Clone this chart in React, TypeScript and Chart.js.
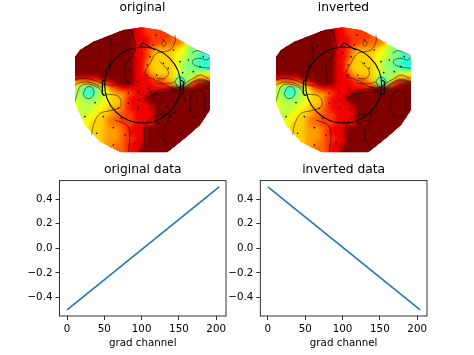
import React, { useEffect, useRef } from "react";
import { Chart, registerables } from "chart.js";

Chart.register(...registerables);

const FONT = "'DejaVu Sans'";

// ---- line panels ----
const channels = [0, 204];
const originalValues = [-0.5, 0.5];
const invertedValues = [0.5, -0.5];
const xTicks = [0, 50, 100, 150, 200];
const yTicks = [-0.4, -0.2, 0, 0.2, 0.4];

// ---- topomap: colour levels per cell (0 = cyan-green ... 9 = dark red) ----
const levelJet = [0.42, 0.5, 0.56, 0.62, 0.67, 0.72, 0.77, 0.82, 0.89, 1.0];
const heatRows = [
  "999999999999887777665443322",
  "999999999999887777766543322",
  "999999999999888777766543221",
  "999999999999888776666532211",
  "999999999999887655554321111",
  "999999999999887544443321100",
  "999999999999887544443221100",
  "999999999999886444443211000",
  "999999999999886444443211100",
  "999999999999887544443221233",
  "888889999999888766541013555",
  "444556789999888877652026899",
  "210012367888888888899999999",
  "210012345567888999999999999",
  "221122344578889999999999999",
  "322223344578888999999999999",
  "322233455678888899999999999",
  "322334456677888899999999999",
  "323344566777888899999999999",
  "333444566777888899999999999",
  "333444555678889999999999999",
  "333444555678889999999999999",
  "444444555677889999999999999",
  "444444556678889999999999999",
  "444445566678899999999999999",
];
const outline: [number, number][] = [
  [45, 170], [60, 150], [100, 125], [190, 90], [245, 82], [300, 90], [350, 115], [445, 168], [450, 178],
  [450, 330], [420, 375], [380, 410], [320, 458], [185, 458], [120, 425], [75, 375], [45, 310],
];
const contours: [number, number][][] = [
  [[45, 238], [70, 235], [100, 240], [130, 252], [160, 258]],
  [[45, 256], [55, 250], [75, 246], [100, 250], [122, 262], [130, 272]],
  [[45, 305], [52, 280], [62, 258], [80, 252], [100, 256], [120, 268], [128, 285]],
  [[70, 280], [80, 262], [95, 262], [102, 280], [90, 295], [75, 292], [70, 280]],
  [[96, 405], [96, 395], [104, 365], [121, 340], [151, 332], [181, 320], [176, 290], [136, 282]],
  [[165, 360], [200, 375], [210, 400], [205, 455]],
  [[290, 240], [330, 262], [360, 262], [375, 250], [400, 235], [420, 225], [445, 235]],
  [[262, 290], [310, 268], [360, 270], [390, 250], [420, 238], [450, 245]],
  [[370, 272], [400, 248], [425, 242], [450, 252]],
  [[345, 105], [345, 125], [330, 150], [290, 160], [270, 190], [255, 225], [285, 240], [290, 250], [330, 250], [345, 245]],
  [[300, 185], [325, 215], [315, 235], [290, 235]],
  [[345, 245], [355, 232], [372, 238], [372, 255], [355, 262], [345, 245]],
  [[395, 160], [410, 152], [430, 158], [450, 170], [440, 180], [420, 175], [400, 180], [398, 190], [415, 200], [450, 205]],
  [[305, 130], [312, 122], [318, 130], [312, 140], [305, 130]],
  [[150, 115], [155, 170], [135, 215]],
  [[215, 90], [225, 150], [195, 200], [200, 250]],
  [[395, 280], [420, 270], [435, 300], [425, 345], [400, 350], [390, 310], [395, 280]],
  [[255, 440], [255, 380], [280, 350], [340, 340], [350, 330]],
  [[330, 450], [310, 400], [330, 350]],
  [[255, 300], [280, 285], [345, 275], [362, 285]],
];
const sensors: [number, number][] = [
  [288, 105], [310, 120], [340, 150], [360, 185], [385, 180], [430, 170], [420, 200], [400, 215], [368, 218],
  [325, 205], [310, 190], [280, 135], [245, 160], [270, 170], [262, 195], [290, 225], [262, 225], [235, 245],
  [205, 248], [265, 265], [290, 280], [235, 275], [205, 280], [235, 300], [205, 310], [175, 325], [130, 350],
  [75, 350], [105, 308], [130, 285], [185, 355], [160, 383], [110, 400], [160, 435], [195, 405], [235, 325],
  [270, 330], [300, 300], [320, 320], [345, 310], [375, 300], [410, 300], [440, 330], [400, 370], [360, 400],
  [330, 350], [290, 370], [250, 365], [225, 430], [270, 420], [310, 420], [170, 135], [120, 165], [90, 210],
  [150, 200], [190, 150], [210, 210], [65, 170],
];
const head: [number, number][] = [[248, 255]];
const nose: [number, number][] = [[236, 144], [248, 128], [285, 150]];
const leftEar: [number, number][] = [[135, 240], [128, 243], [127, 280], [135, 288]];
const rightEar: [number, number][] = [[362, 240], [370, 245], [370, 280], [362, 285]];

const pts = (a: [number, number][]) => a.map(([x, y]) => ({ x, y }));
const c01 = (v: number) => Math.max(0, Math.min(1, v));
const jet = (v: number) => {
  const r = c01(1.5 - Math.abs(4 * v - 3));
  const g = c01(1.5 - Math.abs(4 * v - 2));
  const b = c01(1.5 - Math.abs(4 * v - 1));
  return `rgb(${Math.round(r * 255)},${Math.round(g * 255)},${Math.round(b * 255)})`;
};

const heatPlugin = {
  id: "heatClip",
  beforeDatasetDraw(chart: any, args: any) {
    if (args.index !== 0) return;
    const { ctx, scales } = chart;
    ctx.save();
    ctx.beginPath();
    outline.forEach(([x, y], i) => {
      const px = scales.x.getPixelForValue(x);
      const py = scales.y.getPixelForValue(y);
      if (i) ctx.lineTo(px, py);
      else ctx.moveTo(px, py);
    });
    ctx.closePath();
    ctx.clip();
  },
  afterDatasetDraw(chart: any, args: any) {
    if (args.index !== 0) return;
    const { ctx } = chart;
    ctx.filter = "blur(2.2px)";
    ctx.drawImage(ctx.canvas, 0, 0);
    ctx.filter = "none";
    ctx.restore();
  },
};

const framePlugin = {
  id: "frame",
  afterDraw(chart: any) {
    const { ctx, chartArea: a } = chart;
    ctx.save();
    ctx.strokeStyle = "#000";
    ctx.lineWidth = 0.8;
    ctx.strokeRect(a.left, a.top, a.right - a.left, a.bottom - a.top);
    ctx.restore();
  },
};

function makeMapConfig(title: string): any {
  const heat: any[] = [];
  const colors: string[] = [];
  heatRows.forEach((row, r) => {
    [...row].forEach((ch, c) => {
      heat.push({ x: 45 + 15 * c + 7.5, y: 81 + 15 * r + 7.5 });
      colors.push(jet(levelJet[Number(ch)]));
    });
  });
  const line = (data: any[], width: number, color: string) => ({
    data,
    showLine: true,
    pointRadius: 0,
    borderWidth: width,
    borderColor: color,
    tension: 0.4,
    fill: false,
    order: 5,
  });
  return {
    type: "scatter",
    data: {
      datasets: [
        { data: heat, pointStyle: "rect", pointRadius: 4.8, pointBorderWidth: 0, pointBackgroundColor: colors, order: 10 },
        ...contours.map((c) => line(pts(c), 0.7, "rgba(0,0,0,0.75)")),
        { data: pts(sensors), pointRadius: 0.8, pointBorderWidth: 0, pointBackgroundColor: "#000", order: 3 },
        { data: pts(head), pointRadius: 38, pointBorderWidth: 1.1, pointBorderColor: "#000", pointBackgroundColor: "transparent", order: 2 },
        { ...line(pts(nose), 1.1, "#000"), tension: 0, order: 2 },
        { ...line(pts(leftEar), 1.1, "#000"), tension: 0, order: 2 },
        { ...line(pts(rightEar), 1.1, "#000"), tension: 0, order: 2 },
      ],
    },
    options: {
      animation: false,
      responsive: false,
      layout: { autoPadding: false, padding: { left: 15, right: 20, bottom: 13, top: 0 } },
      plugins: {
        legend: { display: false },
        tooltip: { enabled: false },
        title: {
          display: true,
          fullSize: false,
          text: title,
          color: "#000",
          font: { family: FONT, size: 12.3, weight: "normal" },
          padding: { top: 0, bottom: 12.2 },
        },
      },
      scales: {
        x: { type: "linear", display: false, min: 45, max: 450 },
        y: { type: "linear", display: false, min: 81, max: 456, reverse: true },
      },
    },
  };
}

function makeLineConfig(title: string, values: number[], yWidth: number, padRight: number): any {
  const tickFont = { family: FONT, size: 10.3 };
  return {
    type: "scatter",
    data: {
      datasets: [
        {
          data: channels.map((x, i) => ({ x, y: values[i] })),
          showLine: true,
          borderColor: "#1f77b4",
          borderWidth: 1.55,
          pointRadius: 0,
        },
      ],
    },
    options: {
      animation: false,
      responsive: false,
      layout: { autoPadding: false, padding: { left: 0, right: padRight, top: 0, bottom: 5 } },
      plugins: {
        legend: { display: false },
        tooltip: { enabled: false },
        title: {
          display: true,
          fullSize: false,
          text: title,
          color: "#000",
          font: { family: FONT, size: 12.3, weight: "normal" },
          padding: { top: 2.6, bottom: 3.3 },
        },
      },
      scales: {
        x: {
          type: "linear",
          min: -10.15,
          max: 213.15,
          afterBuildTicks: (s: any) => {
            s.ticks = xTicks.map((value) => ({ value }));
          },
          afterFit: (s: any) => {
            s.height = 34;
          },
          grid: { drawOnChartArea: false, drawTicks: true, tickLength: 4, color: "#000", lineWidth: 0.8 },
          border: { display: false },
          ticks: { color: "#000", font: tickFont, padding: 3, maxRotation: 0, autoSkip: false, callback: (v: any) => String(v) },
          title: { display: true, text: "grad channel", color: "#000", font: tickFont, padding: { top: 2, bottom: 0 } },
        },
        y: {
          type: "linear",
          min: -0.55,
          max: 0.55,
          afterBuildTicks: (s: any) => {
            s.ticks = yTicks.map((value) => ({ value }));
          },
          afterFit: (s: any) => {
            s.width = yWidth;
          },
          grid: { drawOnChartArea: false, drawTicks: true, tickLength: 4, color: "#000", lineWidth: 0.8 },
          border: { display: false },
          ticks: {
            color: "#000",
            font: tickFont,
            padding: 3,
            autoSkip: false,
            callback: (v: any) => Number(v).toFixed(1).replace("-", "\u2212"),
          },
        },
      },
    },
    plugins: [framePlugin],
  };
}

function Panel({ left, top, width, height, config }: { left: number; top: number; width: number; height: number; config: () => any }) {
  const ref = useRef<HTMLCanvasElement | null>(null);
  useEffect(() => {
    const chart = new Chart(ref.current as HTMLCanvasElement, config());
    return () => chart.destroy();
  }, []);
  return <canvas ref={ref} width={width} height={height} style={{ position: "absolute", left, top, width, height }} />;
}

export default function App() {
  return (
    <div style={{ position: "fixed", left: 0, top: 0, width: 474, height: 355, background: "#fff", overflow: "hidden" }}>
      <Panel left={60} top={0} width={170} height={165} config={() => ({ ...makeMapConfig("original"), plugins: [heatPlugin] })} />
      <Panel left={261} top={0} width={170} height={165} config={() => ({ ...makeMapConfig("inverted"), plugins: [heatPlugin] })} />
      <Panel left={0} top={160} width={240} height={195} config={() => makeLineConfig("original data", originalValues, 59.5, 14)} />
      <Panel left={226} top={160} width={236} height={195} config={() => makeLineConfig("inverted data", invertedValues, 34.3, 35)} />
    </div>
  );
}
